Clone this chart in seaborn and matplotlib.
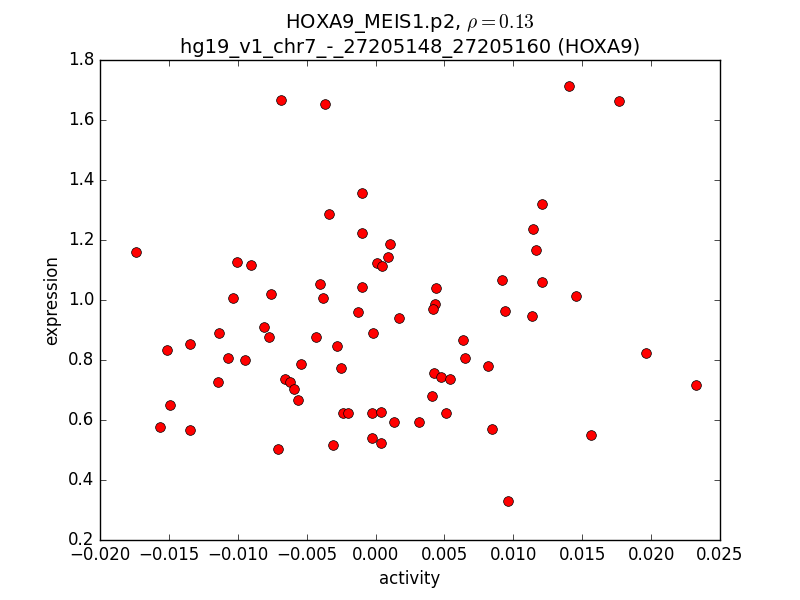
import matplotlib
matplotlib.use("Agg")
import matplotlib.pyplot as plt
import seaborn as sns
import pandas as pd

activity = [
    -0.01737, -0.00684, -0.00365, 0.01406, 0.01767, -0.00096, -0.00336, -0.00096,
    0.01210, 0.01145, 0.01167, 0.00107, 0.00093, 0.00011, 0.00049, -0.01003,
    -0.00902, -0.00096, 0.00441, -0.00403, -0.00379, -0.00757, -0.01033, 0.00920,
    0.01210, 0.01457, 0.00434, 0.00419, 0.00942, 0.01138, 0.00168, -0.00125,
    -0.01134, -0.00810, -0.00771, -0.00430, -0.00016, -0.01345, -0.01512, -0.00278,
    0.00637, -0.01071, -0.00945, -0.00539, -0.00249, 0.00651, 0.00818, 0.01965,
    0.02328, 0.00426, 0.00477, 0.00543, -0.00655, -0.00623, -0.01141, -0.00590,
    -0.00561, 0.00412, -0.01490, -0.00234, -0.00198, -0.00024, 0.00037, 0.00514,
    0.00134, 0.00318, -0.01562, -0.01345, 0.00847, 0.01566, -0.00028, 0.00037,
    -0.00307, -0.00706, 0.00964,
]
expression = [
    1.159, 1.666, 1.652, 1.712, 1.662, 1.356, 1.286, 1.222,
    1.319, 1.236, 1.166, 1.186, 1.142, 1.123, 1.112, 1.126,
    1.116, 1.042, 1.039, 1.052, 1.007, 1.019, 1.007, 1.066,
    1.059, 1.012, 0.986, 0.969, 0.962, 0.946, 0.939, 0.959,
    0.889, 0.909, 0.876, 0.876, 0.889, 0.852, 0.832, 0.847,
    0.866, 0.806, 0.800, 0.787, 0.772, 0.806, 0.779, 0.822,
    0.716, 0.756, 0.742, 0.736, 0.736, 0.726, 0.726, 0.702,
    0.666, 0.679, 0.649, 0.622, 0.622, 0.622, 0.626, 0.622,
    0.592, 0.592, 0.576, 0.567, 0.569, 0.549, 0.539, 0.522,
    0.516, 0.502, 0.329,
]

title_line1 = r"HOXA9_MEIS1.p2, $\rho=0.13$"
title_line2 = "hg19_v1_chr7_-_27205148_27205160 (HOXA9)"

plt.style.use("classic")
plt.rcParams["figure.facecolor"] = "white"
plt.rcParams["savefig.facecolor"] = "white"
plt.rcParams["font.family"] = ["DejaVu Sans"]
plt.rcParams["mathtext.fontset"] = "cm"

df = pd.DataFrame({"activity": activity, "expression": expression})

fig = plt.figure(figsize=(8, 6), dpi=100)
ax = fig.add_axes([0.125, 0.1, 0.775, 0.8])
sns.scatterplot(data=df, x="activity", y="expression", ax=ax,
                color="red", edgecolor="black", linewidth=0.5, s=49, zorder=3)
ax.set_xlim(-0.020, 0.025)
ax.set_ylim(0.2, 1.8)
ax.set_xticks([-0.020, -0.015, -0.010, -0.005, 0.000, 0.005, 0.010, 0.015, 0.020, 0.025])
ax.set_xticklabels(["\u22120.020", "\u22120.015", "\u22120.010", "\u22120.005", "0.000",
                    "0.005", "0.010", "0.015", "0.020", "0.025"])
ax.set_yticks([0.2, 0.4, 0.6, 0.8, 1.0, 1.2, 1.4, 1.6, 1.8])
ax.set_yticklabels(["0.2", "0.4", "0.6", "0.8", "1.0", "1.2", "1.4", "1.6", "1.8"])
ax.set_xlabel("activity", fontsize=12)
ax.set_ylabel("expression", fontsize=12)
ax.set_title(title_line1 + "\n" + title_line2, fontsize=14)
ax.tick_params(direction="in", top=True, right=True, labelsize=12)
fig.savefig("out.png", dpi=100)
